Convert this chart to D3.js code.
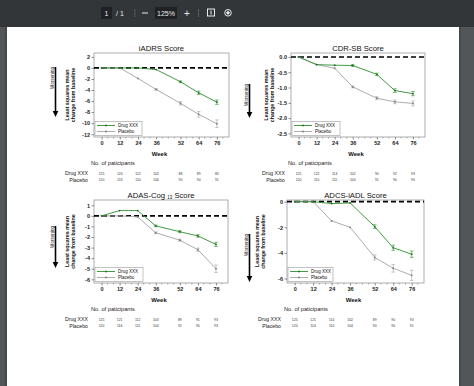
<!DOCTYPE html>
<html><head><meta charset="utf-8">
<script src="https://cdn.jsdelivr.net/npm/d3@7"></script>
<style>body{margin:0;background:#525659;} svg{display:block;font-family:"Liberation Sans",Arial,sans-serif;}</style>
</head><body><svg id="c" width="474" height="386"></svg>
<script>
// ---------- data ----------
const weeks = [0, 12, 24, 36, 52, 64, 76];

const iadrsDrug       = [0, 0, 0, -0.3, -2.5, -4.5, -6.2];
const iadrsDrugErr    = [0, 0, 0, 0.1, 0.15, 0.3, 0.4];
const iadrsPlacebo    = [0, 0, -1.9, -3.9, -6.4, -8.4, -10.1];
const iadrsPlaceboErr = [0, 0, 0.1, 0.15, 0.3, 0.5, 0.7];
const iadrsTicks      = [2, 0, -2, -4, -6, -8, -10, -12];
const iadrsNDrug      = [125, 120, 112, 102, 88, 89, 83];
const iadrsNPlacebo   = [120, 113, 110, 100, 90, 90, 91];

const cdrDrug       = [0, -0.25, -0.27, -0.28, -0.57, -1.1, -1.2];
const cdrDrugErr    = [0, 0.02, 0.02, 0.03, 0.04, 0.06, 0.07];
const cdrPlacebo    = [0, -0.25, -0.37, -0.98, -1.35, -1.47, -1.52];
const cdrPlaceboErr = [0, 0.02, 0.02, 0.03, 0.05, 0.06, 0.08];
const cdrTicks      = [0, -0.5, -1.0, -1.5, -2.0, -2.5];
const cdrNDrug      = [125, 122, 114, 102, 90, 92, 93];
const cdrNPlacebo   = [120, 115, 111, 104, 91, 90, 90];

const adasDrug       = [0, 0.5, 0.5, -0.95, -1.5, -1.9, -2.7];
const adasDrugErr    = [0, 0.05, 0.05, 0.08, 0.1, 0.12, 0.2];
const adasPlacebo    = [0, 0, -0.1, -1.6, -2.3, -3.2, -5.0];
const adasPlaceboErr = [0, 0.05, 0.05, 0.08, 0.1, 0.15, 0.35];
const adasTicks      = [1, 0, -1, -2, -3, -4, -5, -6];
const adasNDrug      = [125, 121, 112, 103, 89, 91, 93];
const adasNPlacebo   = [120, 116, 111, 104, 92, 90, 93];

const adcsDrug       = [0, 0, -0.15, -0.1, -1.95, -3.6, -4.1];
const adcsDrugErr    = [0, 0, 0.05, 0.05, 0.15, 0.2, 0.25];
const adcsPlacebo    = [0, 0, -1.5, -2.0, -4.35, -5.2, -5.75];
const adcsPlaceboErr = [0, 0, 0.05, 0.05, 0.2, 0.3, 0.4];
const adcsTicks      = [0, -2, -4, -6];
const adcsNDrug      = [125, 121, 114, 102, 89, 90, 93];
const adcsNPlacebo   = [120, 114, 110, 104, 90, 90, 91];

const seriesNames = ["Drug XXX", "Placebo"];

// ---------- panels ----------
const panels = [
  {title: "iADRS Score", sub: null, drug: iadrsDrug, drugErr: iadrsDrugErr, plac: iadrsPlacebo, placErr: iadrsPlaceboErr,
   ticks: iadrsTicks, dec: 0, nD: iadrsNDrug, nP: iadrsNPlacebo, yDom: [2.7, -12.5],
   box: {x0: 94, x1: 229, y0: 53, y1: 137}, ylx: -27, wx: 53, wy: [67, 117], leg: {w: 47}},
  {title: "CDR-SB Score", sub: null, drug: cdrDrug, drugErr: cdrDrugErr, plac: cdrPlacebo, placErr: cdrPlaceboErr,
   ticks: cdrTicks, dec: 1, nD: cdrNDrug, nP: cdrNPlacebo, yDom: [0.13, -2.62],
   box: {x0: 291, x1: 425, y0: 53, y1: 137}, ylx: -25, wx: 247, wy: [84, 118], leg: {w: 48}},
  {title: "ADAS-Cog", sub: "13", drug: adasDrug, drugErr: adasDrugErr, plac: adasPlacebo, placErr: adasPlaceboErr,
   ticks: adasTicks, dec: 0, nD: adasNDrug, nP: adasNPlacebo, yDom: [1.5, -6.35],
   box: {x0: 94, x1: 228, y0: 200, y1: 283}, ylx: -27, wx: 53, wy: [226, 268], leg: {w: 48}},
  {title: "ADCS-iADL Score", sub: null, drug: adcsDrug, drugErr: adcsDrugErr, plac: adcsPlacebo, placErr: adcsPlaceboErr,
   ticks: adcsTicks, dec: 0, nD: adcsNDrug, nP: adcsNPlacebo, yDom: [0.13, -6.35],
   box: {x0: 287, x1: 424, y0: 200, y1: 283}, ylx: -30, wx: 247, wy: [234, 282], leg: {w: 45}}
];

const GREEN = "#2f8f2f", GREEN_D = "#1f6f1f", GRAY = "#a3a3a3", GRAY_D = "#7a7a7a";

const svg = d3.select("#c");

// ---------- viewer chrome ----------
svg.append("rect").attr("x", 0).attr("y", 0).attr("width", 474).attr("height", 386).attr("fill", "#525659");
svg.append("rect").attr("x", 0).attr("y", 0).attr("width", 474).attr("height", 27).attr("fill", "#323639");
svg.append("rect").attr("x", 5).attr("y", 27).attr("width", 456).attr("height", 359).attr("fill", "#46494c");
svg.append("rect").attr("x", 7).attr("y", 27).attr("width", 452).attr("height", 359).attr("fill", "#ffffff");
const tb = svg.append("g").attr("fill", "#e8eaed").attr("font-size", 7);
tb.append("rect").attr("x", 101).attr("y", 7).attr("width", 11).attr("height", 12).attr("fill", "#202124");
tb.append("text").attr("x", 106.5).attr("y", 15.5).attr("text-anchor", "middle").text("1");
tb.append("text").attr("x", 116).attr("y", 15.5).text("/  1");
tb.append("rect").attr("x", 134.5).attr("y", 9).attr("width", 0.7).attr("height", 8).attr("fill", "#6a6d70");
tb.append("rect").attr("x", 142).attr("y", 12.5).attr("width", 6).attr("height", 1).attr("fill", "#e8eaed");
tb.append("rect").attr("x", 155).attr("y", 7).attr("width", 22).attr("height", 12).attr("fill", "#202124");
tb.append("text").attr("x", 166).attr("y", 15.5).attr("text-anchor", "middle").text("125%");
tb.append("text").attr("x", 187).attr("y", 16.5).attr("text-anchor", "middle").attr("font-size", 10).text("+");
tb.append("rect").attr("x", 198).attr("y", 9).attr("width", 0.7).attr("height", 8).attr("fill", "#6a6d70");
tb.append("rect").attr("x", 207.5).attr("y", 9).attr("width", 7).attr("height", 7).attr("fill", "none").attr("stroke", "#e8eaed").attr("stroke-width", 1);
tb.append("rect").attr("x", 210.5).attr("y", 10.5).attr("width", 1).attr("height", 4).attr("fill", "#e8eaed");
tb.append("circle").attr("cx", 228).attr("cy", 12.8).attr("r", 3.3).attr("fill", "none").attr("stroke", "#e8eaed").attr("stroke-width", 1);
tb.append("rect").attr("x", 226.5).attr("y", 11.3).attr("width", 3).attr("height", 3).attr("fill", "#e8eaed").attr("transform", "rotate(45,228,12.8)");

// ---------- panels ----------
const fmt = (v, d) => (v < 0 ? "-" : "") + Math.abs(v).toFixed(d);

panels.forEach(p => {
  const b = p.box;
  const g = svg.append("g");
  const x = d3.scaleLinear().domain([-5, 84]).range([b.x0, b.x1]);
  const y = d3.scaleLinear().domain(p.yDom).range([b.y0, b.y1]);

  // frame
  g.append("rect").attr("x", b.x0).attr("y", b.y0).attr("width", b.x1 - b.x0).attr("height", b.y1 - b.y0)
    .attr("fill", "none").attr("stroke", "#9a9a9a").attr("stroke-width", 0.8);

  // y axis
  const ya = d3.axisLeft(y).tickValues(p.ticks).tickSize(2.5).tickPadding(1.5).tickFormat(v => fmt(v, p.dec));
  const yg = g.append("g").attr("transform", `translate(${b.x0},0)`).call(ya);
  yg.select(".domain").remove();
  yg.selectAll("text").attr("font-size", 5.5).attr("font-weight", "bold").attr("fill", "#222").attr("font-family", "Liberation Sans, Arial");
  yg.selectAll("line").attr("stroke", "#444").attr("stroke-width", 0.6);

  // x axis (major ticks at visit weeks + minor ticks)
  const xa = d3.axisBottom(x).tickValues(weeks).tickSize(2.5).tickPadding(2).tickFormat(d => d);
  const xg = g.append("g").attr("transform", `translate(0,${b.y1})`).call(xa);
  xg.select(".domain").remove();
  xg.selectAll("text").attr("font-size", 5.5).attr("font-weight", "bold").attr("fill", "#222").attr("font-family", "Liberation Sans, Arial");
  xg.selectAll("line").attr("stroke", "#444").attr("stroke-width", 0.6);
  const minor = d3.range(0, 81, 4).filter(w => !weeks.includes(w));
  g.append("g").selectAll("line").data(minor).join("line")
    .attr("x1", d => x(d)).attr("x2", d => x(d)).attr("y1", b.y1).attr("y2", b.y1 + 1.5)
    .attr("stroke", "#666").attr("stroke-width", 0.5);

  // title
  const t = g.append("text").attr("x", (b.x0 + b.x1) / 2).attr("y", b.y0 - 2.5).attr("text-anchor", "middle")
    .attr("font-size", 7.7).attr("fill", "#111");
  if (p.sub) {
    t.append("tspan").text(p.title + " ");
    t.append("tspan").attr("font-size", 4.5).attr("dy", 1.5).text(p.sub);
    t.append("tspan").attr("dy", -1.5).text(" Score");
  } else t.text(p.title);

  // y label
  const yc = (b.y0 + b.y1) / 2;
  const yl = g.append("text").attr("transform", `translate(${b.x0 + p.ylx + 2},${yc}) rotate(-90)`)
    .attr("text-anchor", "middle").attr("font-size", 5.3).attr("font-weight", "bold").attr("fill", "#111");
  yl.append("tspan").attr("x", 0).attr("y", 0).text("Least squares mean");
  yl.append("tspan").attr("x", 0).attr("y", 6).text("change from baseline");

  // worsening arrow
  g.append("line").attr("x1", p.wx + 2.5).attr("x2", p.wx + 2.5).attr("y1", p.wy[0]).attr("y2", p.wy[1] - 5)
    .attr("stroke", "#000").attr("stroke-width", 1.6);
  g.append("path").attr("d", `M${p.wx - 0.3},${p.wy[1] - 6} L${p.wx + 5.3},${p.wy[1] - 6} L${p.wx + 2.5},${p.wy[1]} Z`).attr("fill", "#000");
  g.append("text").attr("transform", `translate(${p.wx + 1.2},${p.wy[0]}) rotate(-90)`).attr("text-anchor", "end")
    .attr("font-size", 4.6).attr("fill", "#111").text("Worsening");

  // zero reference line
  g.append("line").attr("x1", b.x0).attr("x2", b.x1).attr("y1", y(0)).attr("y2", y(0))
    .attr("stroke", "#000").attr("stroke-width", 1.6).attr("stroke-dasharray", "5,3");

  // series
  const series = [
    {vals: p.plac, err: p.placErr, c: GRAY, cd: GRAY_D},
    {vals: p.drug, err: p.drugErr, c: GREEN, cd: GREEN_D}
  ];
  series.forEach(s => {
    const pts = weeks.map((w, i) => ({w, v: s.vals[i], e: s.err[i]}));
    g.append("path").datum(pts).attr("fill", "none").attr("stroke", s.c).attr("stroke-width", 0.9)
      .attr("d", d3.line().x(d => x(d.w)).y(d => y(d.v)));
    const eb = g.append("g").attr("stroke", s.c).attr("stroke-width", 0.6);
    pts.filter(d => Math.abs(y(d.v + d.e) - y(d.v)) > 0.8).forEach(d => {
      const x0 = x(d.w), ya0 = y(d.v + d.e), ya1 = y(d.v - d.e);
      eb.append("line").attr("x1", x0).attr("x2", x0).attr("y1", ya0).attr("y2", ya1);
      eb.append("line").attr("x1", x0 - 1.8).attr("x2", x0 + 1.8).attr("y1", ya0).attr("y2", ya0);
      eb.append("line").attr("x1", x0 - 1.8).attr("x2", x0 + 1.8).attr("y1", ya1).attr("y2", ya1);
    });
    g.append("g").selectAll("circle").data(pts).join("circle")
      .attr("cx", d => x(d.w)).attr("cy", d => y(d.v)).attr("r", 0.9).attr("fill", s.cd);
  });

  // legend
  const lx = b.x0 + 1, lyTop = b.y1 - 15.5;
  const lg = g.append("g");
  lg.append("rect").attr("x", lx).attr("y", lyTop).attr("width", p.leg.w).attr("height", 14)
    .attr("fill", "#fff").attr("stroke", "#9a9a9a").attr("stroke-width", 0.6);
  [{n: seriesNames[0], c: GREEN, cd: GREEN_D}, {n: seriesNames[1], c: GRAY, cd: GRAY_D}].forEach((s, i) => {
    const yy = lyTop + 4 + i * 6;
    lg.append("line").attr("x1", lx + 2).attr("x2", lx + 20).attr("y1", yy).attr("y2", yy).attr("stroke", s.c).attr("stroke-width", 0.9);
    lg.append("circle").attr("cx", lx + 11).attr("cy", yy).attr("r", 0.9).attr("fill", s.cd);
    lg.append("text").attr("x", lx + 23).attr("y", yy + 1.6).attr("font-size", 4.5).attr("fill", "#111").text(s.n);
  });

  // below axis texts
  g.append("text").attr("x", (b.x0 + b.x1) / 2 - 2).attr("y", b.y1 + 19).attr("text-anchor", "middle")
    .attr("font-size", 6).attr("font-weight", "bold").attr("fill", "#111").text("Week");
  g.append("text").attr("x", b.x0 - 3).attr("y", b.y1 + 27.5)
    .attr("font-size", 5.7).attr("fill", "#222").text("No. of paticipants");
  [[seriesNames[0], p.nD, 38], [seriesNames[1], p.nP, 44.5]].forEach(([nm, arr, dy]) => {
    g.append("text").attr("x", b.x0 - 6).attr("y", b.y1 + dy).attr("text-anchor", "end")
      .attr("font-size", 5.2).attr("fill", "#222").text(nm);
    g.append("g").selectAll("text").data(arr).join("text")
      .attr("x", (d, i) => x(weeks[i])).attr("y", b.y1 + dy - 0.3).attr("text-anchor", "middle")
      .attr("font-size", 3.4).attr("fill", "#333").text(d => d);
  });
});
</script></body></html>
